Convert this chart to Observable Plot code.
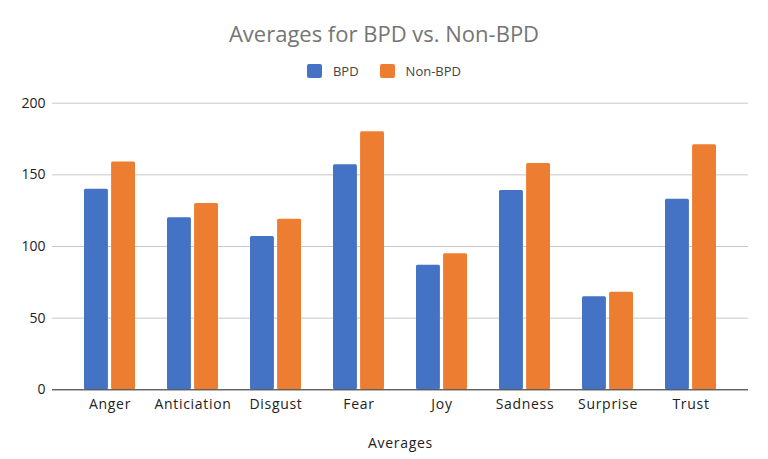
<!DOCTYPE html>
<html>
<head>
<meta charset="utf-8">
<script src="https://cdn.jsdelivr.net/npm/d3@7"></script>
<script src="https://cdn.jsdelivr.net/npm/@observablehq/plot@0.6"></script>
<style>
  html, body { margin: 0; padding: 0; background: #fff; }
  #wrap { position: relative; width: 768px; height: 459px; overflow: hidden; font-family: "Open Sans", sans-serif; }
  #title { position: absolute; left: 0; top: 22px; width: 768px; text-align: center; font-size: 22px; line-height: 22px; color: #757575; }
  #legend { position: absolute; left: 0; top: 64px; width: 768px; height: 14px; display: flex; justify-content: center; align-items: center; font-size: 13px; color: #444; }
  #legend .sw { width: 15px; height: 14px; border-radius: 2px; margin-right: 11px; }
  #legend .item { display: flex; align-items: center; }
  #legend .item + .item { margin-left: 21px; }
  #chart { position: absolute; left: 0; top: 88px; }
  #chart svg g[aria-label="x-axis tick label"] text, #chart svg g[aria-label="text"] text { letter-spacing: 0.7px; }
</style>
</head>
<body>
<div id="wrap">
  <div id="title">Averages for BPD vs. Non-BPD</div>
  <div id="legend"></div>
  <div id="chart"></div>
</div>
<script>
const categories = ["Anger", "Anticiation", "Disgust", "Fear", "Joy", "Sadness", "Surprise", "Trust"];
const seriesNames = ["BPD", "Non-BPD"];
const bpd = [140, 120, 107, 157, 87, 139, 65, 133];
const nonBpd = [159, 130, 119, 180, 95, 158, 68, 171];
const yTicks = [0, 50, 100, 150, 200];
const colors = ["#4472C4", "#ED7D31"];
const xTitle = "Averages";

const legend = document.getElementById("legend");
seriesNames.forEach((s, i) => {
  const item = document.createElement("div");
  item.className = "item";
  const sw = document.createElement("div");
  sw.className = "sw";
  sw.style.background = colors[i];
  const t = document.createElement("span");
  t.textContent = s;
  item.appendChild(sw);
  item.appendChild(t);
  legend.appendChild(item);
});

const rows = [];
categories.forEach((c, i) => {
  rows.push({category: c, series: seriesNames[0], value: bpd[i]});
  rows.push({category: c, series: seriesNames[1], value: nonBpd[i]});
});

const half = 27.1;
const chart = Plot.plot({
  width: 768,
  height: 371,
  marginLeft: 52,
  marginRight: 20,
  marginTop: 14.7,
  marginBottom: 69.7,
  style: {fontFamily: "Open Sans, sans-serif", fontSize: "14px", color: "#333", background: "transparent"},
  x: {domain: categories, paddingInner: 0.39, paddingOuter: 0.37, label: null, tickSize: 0, tickPadding: 10},
  y: {domain: [0, 200], ticks: yTicks, label: null, tickSize: 0, tickPadding: 7},
  color: {domain: seriesNames, range: colors},
  marks: [
    Plot.gridY(yTicks, {stroke: "#c8c8c8", strokeOpacity: 1}),
    Plot.barY(rows.filter(d => d.series === seriesNames[0]), {x: "category", y: "value", fill: "series", insetRight: half, rx: 1.5}),
    Plot.barY(rows.filter(d => d.series === seriesNames[1]), {x: "category", y: "value", fill: "series", insetLeft: half, rx: 1.5}),
    Plot.ruleY([0], {stroke: "#333", strokeWidth: 1}),
    Plot.axisX({tickSize: 0, tickPadding: 9, fill: "#222", fontSize: 14}),
    Plot.axisY({ticks: yTicks, tickSize: 0, tickPadding: 7, fill: "#222", fontSize: 14}),
    Plot.text([xTitle], {frameAnchor: "bottom", dy: 54, text: d => d, fill: "#222", fontSize: 14, lineAnchor: "middle"})
  ]
});
document.getElementById("chart").appendChild(chart);
</script>
</body>
</html>
